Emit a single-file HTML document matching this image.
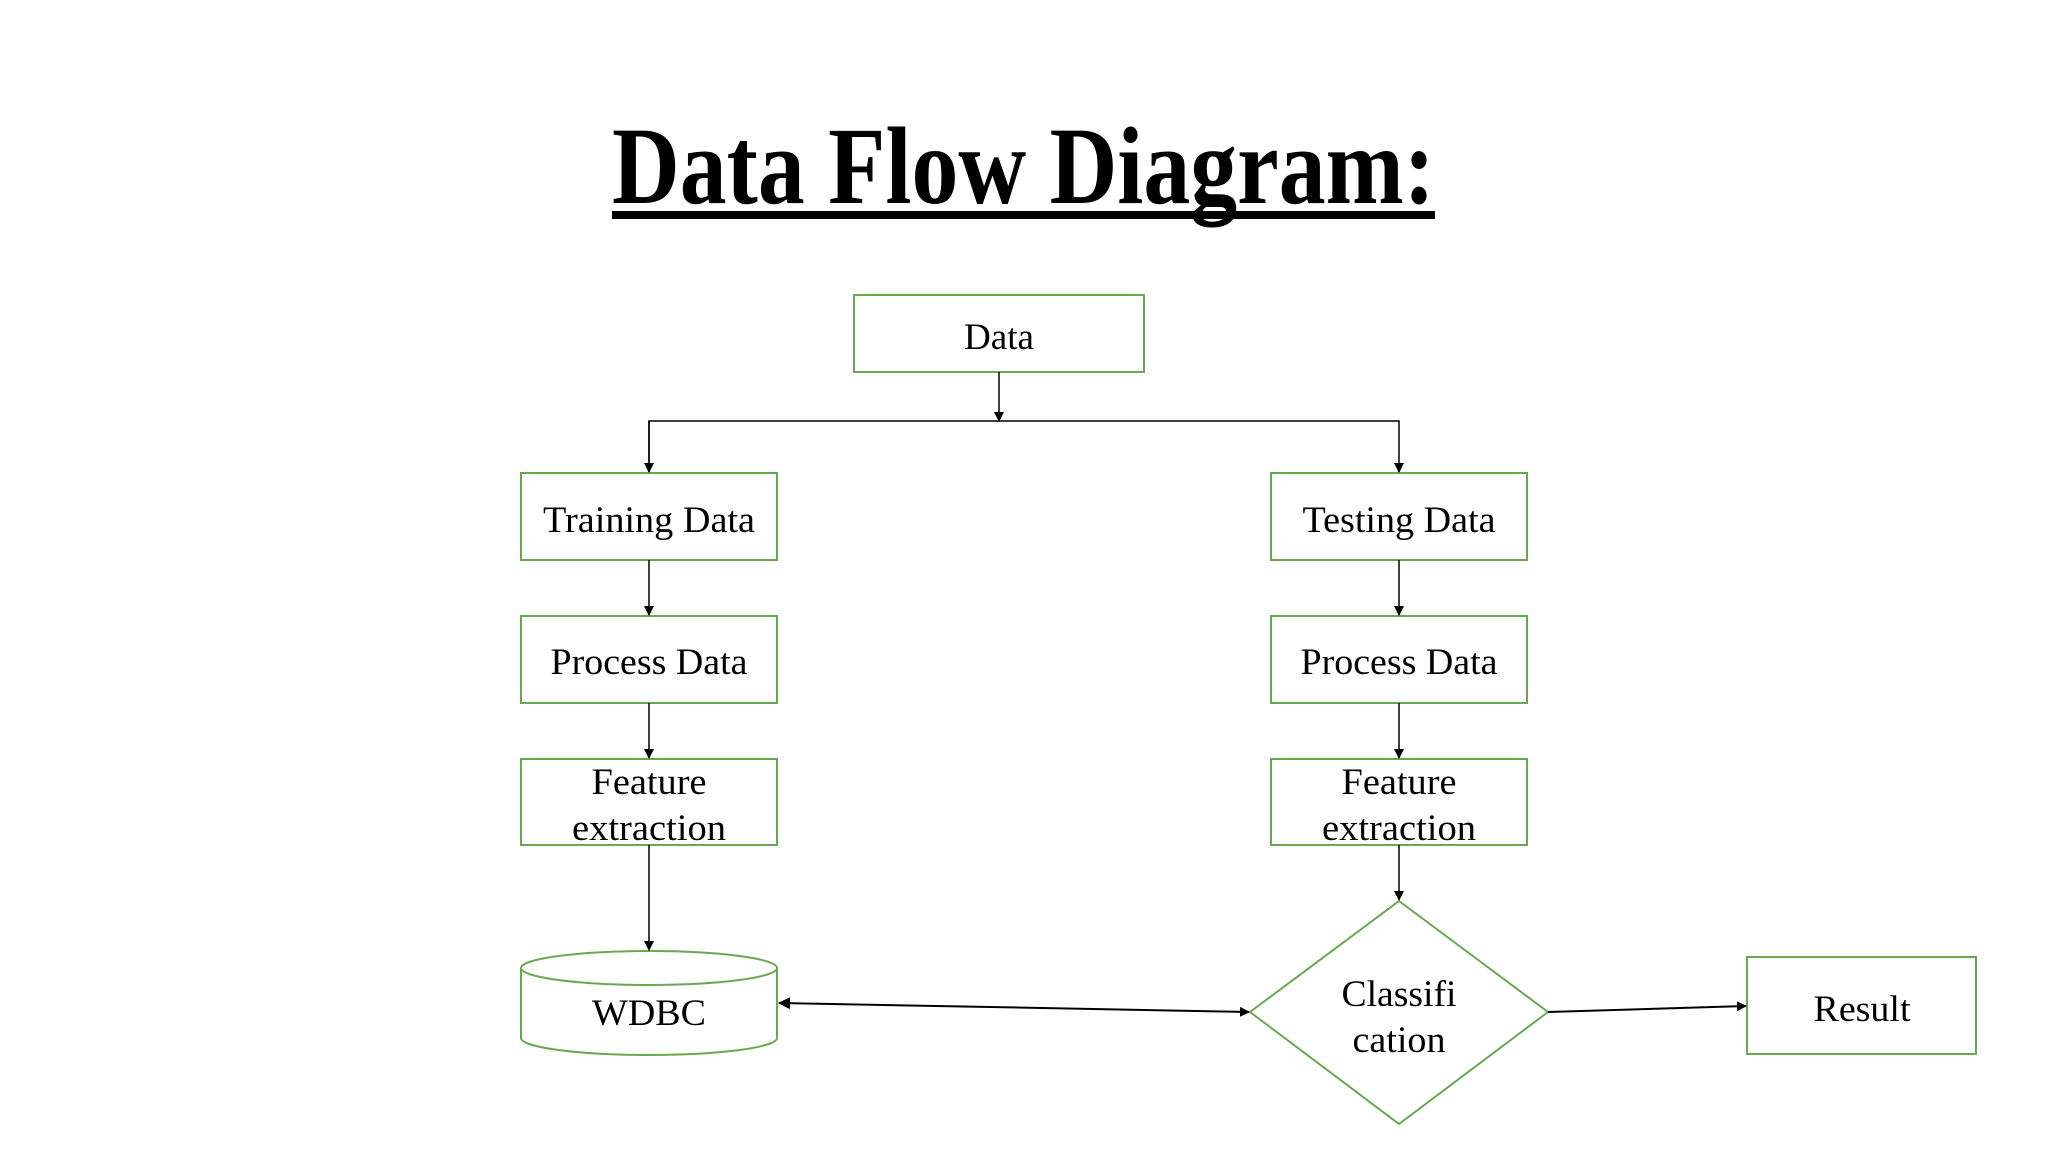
<!DOCTYPE html>
<html><head><meta charset="utf-8"><style>
html,body{margin:0;padding:0;background:#fff;}
svg{display:block;}
text{font-family:"Liberation Serif",serif;fill:#000;}
</style></head><body>
<svg width="2048" height="1152" viewBox="0 0 2048 1152" xmlns="http://www.w3.org/2000/svg">
<defs>
<marker id="a" markerWidth="10" markerHeight="10" refX="9" refY="5" orient="auto" markerUnits="userSpaceOnUse"><path d="M0,0 L10,5 L0,10 z" fill="#000"/></marker>
<marker id="s" markerWidth="12" markerHeight="12" refX="1" refY="6" orient="auto" markerUnits="userSpaceOnUse"><path d="M12,0 L0,6 L12,12 z" fill="#000"/></marker>
</defs>
<text x="612" y="203" font-size="110" font-weight="bold" textLength="823" lengthAdjust="spacingAndGlyphs">Data Flow Diagram:</text>
<rect x="612" y="211" width="823" height="8" fill="#000"/>
<g fill="#fff" stroke="#6aa84f" stroke-width="2">
<rect x="854" y="295" width="290" height="77"/>
<rect x="521" y="473" width="256" height="87"/>
<rect x="1271" y="473" width="256" height="87"/>
<rect x="521" y="616" width="256" height="87"/>
<rect x="1271" y="616" width="256" height="87"/>
<rect x="521" y="759" width="256" height="86"/>
<rect x="1271" y="759" width="256" height="86"/>
<path d="M521,968 L521,1038 A128,17 0 0 0 777,1038 L777,968 A128,17 0 0 0 521,968 A128,17 0 0 0 777,968"/>
<polygon points="1399,901 1548,1012 1399,1124 1250,1012"/>
<rect x="1747" y="957" width="229" height="97"/>
</g>
<g stroke="#000" stroke-width="1.5" fill="none">
<line x1="999" y1="372" x2="999" y2="421" marker-end="url(#a)"/>
<polyline points="649,472 649,421 1399,421 1399,472" marker-end="url(#a)"/>
<line x1="649" y1="421" x2="649" y2="472" marker-end="url(#a)"/>
<line x1="649" y1="560" x2="649" y2="615" marker-end="url(#a)"/>
<line x1="1399" y1="560" x2="1399" y2="615" marker-end="url(#a)"/>
<line x1="649" y1="703" x2="649" y2="758" marker-end="url(#a)"/>
<line x1="1399" y1="703" x2="1399" y2="758" marker-end="url(#a)"/>
<line x1="649" y1="845" x2="649" y2="950" marker-end="url(#a)"/>
<line x1="1399" y1="845" x2="1399" y2="900" marker-end="url(#a)"/>
<line x1="779" y1="1003" x2="1249" y2="1012" stroke-width="2" marker-start="url(#s)" marker-end="url(#a)"/>
<line x1="1548" y1="1012" x2="1746" y2="1006" stroke-width="2" marker-end="url(#a)"/>
</g>
<g font-size="37" text-anchor="middle">
<text x="999" y="349" textLength="70" lengthAdjust="spacingAndGlyphs">Data</text>
<text x="649" y="532" textLength="212" lengthAdjust="spacingAndGlyphs">Training Data</text>
<text x="1399" y="532" textLength="193" lengthAdjust="spacingAndGlyphs">Testing Data</text>
<text x="649" y="674" textLength="197" lengthAdjust="spacingAndGlyphs">Process Data</text>
<text x="1399" y="674" textLength="197" lengthAdjust="spacingAndGlyphs">Process Data</text>
<text x="649" y="794" textLength="115" lengthAdjust="spacingAndGlyphs">Feature</text>
<text x="649" y="840" textLength="154" lengthAdjust="spacingAndGlyphs">extraction</text>
<text x="1399" y="794" textLength="115" lengthAdjust="spacingAndGlyphs">Feature</text>
<text x="1399" y="840" textLength="154" lengthAdjust="spacingAndGlyphs">extraction</text>
<text x="649" y="1025" textLength="114" lengthAdjust="spacingAndGlyphs">WDBC</text>
<text x="1399" y="1006" textLength="115" lengthAdjust="spacingAndGlyphs">Classifi</text>
<text x="1399" y="1052" textLength="93" lengthAdjust="spacingAndGlyphs">cation</text>
<text x="1862" y="1021" textLength="97" lengthAdjust="spacingAndGlyphs">Result</text>
</g>
</svg>
</body></html>
